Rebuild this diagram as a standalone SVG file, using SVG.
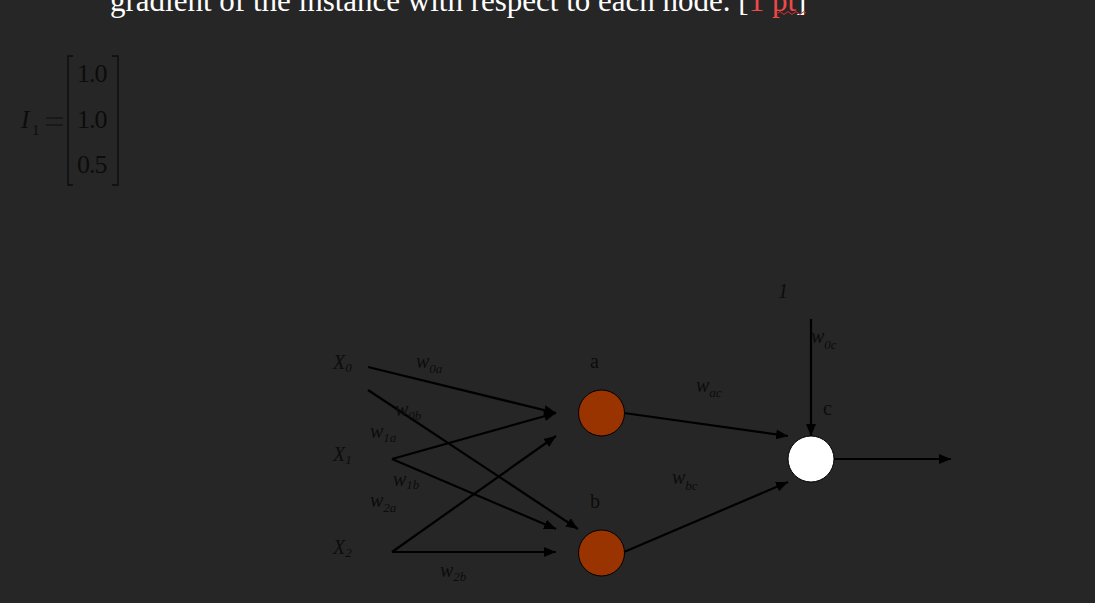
<svg xmlns="http://www.w3.org/2000/svg" width="1095" height="603" viewBox="0 0 1095 603">
<defs>
<marker id="ah" viewBox="0 0 12 10" refX="12" refY="5" markerWidth="12" markerHeight="10" markerUnits="userSpaceOnUse" orient="auto">
<path d="M0,0 L12,5 L0,10 Z" fill="#000"/>
</marker>
</defs>
<style>
.lbl{font-family:"Liberation Serif",serif;font-size:20px;fill:#0c0c0c}
.it{font-style:italic}
.sub{font-size:13px}
.edge{stroke:#000;stroke-width:2.2;fill:none;marker-end:url(#ah)}
.node{stroke:#000;stroke-width:1}
.mx{font-family:"Liberation Serif",serif;font-size:26px;fill:#0c0c0c;letter-spacing:-1px}
</style>
<rect width="1095" height="603" fill="#262626"/>
<text x="110" y="11" font-family="Liberation Serif,serif" font-size="31" fill="#fff">gradient of the instance with respect to each node. [<tspan fill="#f04848">1 pt</tspan>]</text>
<path d="M778,13 q2,-3 4,0 t4,0 t4,0 t4,0 t4,0 t4,0 t4,0" stroke="#e03030" stroke-width="1" fill="none"/>
<g id="matrix">
<text x="21" y="128" font-family="Liberation Serif,serif" font-size="25" font-style="italic" fill="#0c0c0c">I</text>
<text x="32" y="135" font-family="Liberation Serif,serif" font-size="15" fill="#0c0c0c">1</text>
<path d="M46,118 H63 M46,125 H63" stroke="#0c0c0c" stroke-width="1.2"/>
<path d="M73,56 H68 V185 H73 M112,56 H118 V185 H112" stroke="#0c0c0c" stroke-width="1.3" fill="none"/>
<text class="mx" x="77" y="82">1.0</text>
<text class="mx" x="77" y="128">1.0</text>
<text class="mx" x="77" y="173">0.5</text>
</g>
<g id="connectors">
<line class="edge" x1="368" y1="367" x2="556" y2="413"/>
<line class="edge" x1="368" y1="390" x2="578" y2="529"/>
<line class="edge" x1="392" y1="459" x2="556" y2="413"/>
<line class="edge" x1="392" y1="459" x2="556" y2="529"/>
<line class="edge" x1="392" y1="552" x2="556" y2="436"/>
<line class="edge" x1="392" y1="552" x2="556" y2="552"/>
<line class="edge" x1="624" y1="413" x2="788" y2="436"/>
<line class="edge" x1="624" y1="552" x2="788" y2="482"/>
<line class="edge" x1="811" y1="319" x2="811" y2="436"/>
<line class="edge" x1="834" y1="459" x2="951" y2="459"/>
</g>
<g id="X0"><text class="lbl it" x="333" y="369">X<tspan class="sub" dy="3">0</tspan></text></g>
<g id="X1"><text class="lbl it" x="333" y="461">X<tspan class="sub" dy="3">1</tspan></text></g>
<g id="X2"><text class="lbl it" x="333" y="554">X<tspan class="sub" dy="3">2</tspan></text></g>
<g id="one"><text class="lbl it" x="778" y="298">1</text></g>
<g id="a">
<circle class="node" cx="601.5" cy="413" r="23" fill="#993300"/>
<text class="lbl" x="590" y="368">a</text>
</g>
<g id="b">
<circle class="node" cx="601.5" cy="553" r="23" fill="#993300"/>
<text class="lbl" x="590" y="508">b</text>
</g>
<g id="c">
<circle class="node" cx="811" cy="459" r="23" fill="#fff"/>
<text class="lbl" x="823" y="415">c</text>
</g>
<g id="weights">
<text class="lbl it" x="416" y="368">w<tspan class="sub" dy="5">0a</tspan></text>
<text class="lbl it" x="395" y="416">w<tspan class="sub" dy="4">0b</tspan></text>
<text class="lbl it" x="370" y="438">w<tspan class="sub" dy="4">1a</tspan></text>
<text class="lbl it" x="393" y="486">w<tspan class="sub" dy="3">1b</tspan></text>
<text class="lbl it" x="370" y="507">w<tspan class="sub" dy="5">2a</tspan></text>
<text class="lbl it" x="440" y="577">w<tspan class="sub" dy="4">2b</tspan></text>
<text class="lbl it" x="811" y="343">w<tspan class="sub" dy="6">0c</tspan></text>
<text class="lbl it" x="696" y="392">w<tspan class="sub" dy="5">ac</tspan></text>
<text class="lbl it" x="672" y="484">w<tspan class="sub" dy="6">bc</tspan></text>
</g>
</svg>
